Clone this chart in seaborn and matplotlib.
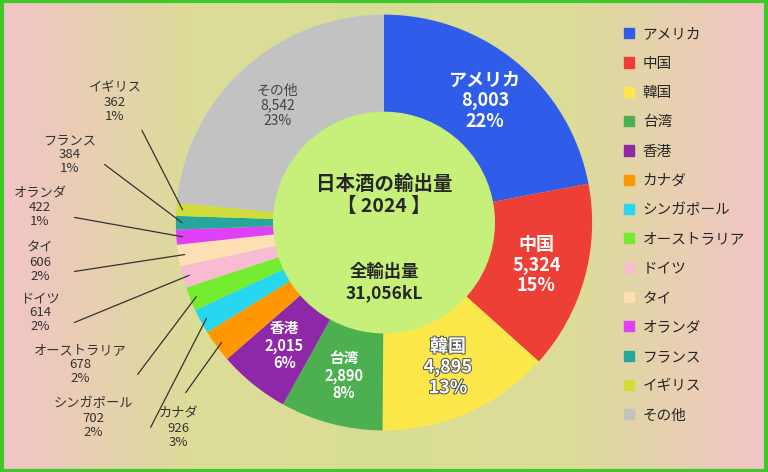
import numpy as np
import matplotlib
matplotlib.use("Agg")
import matplotlib.pyplot as plt
import matplotlib.patheffects as pe
import seaborn as sns
from matplotlib.colors import LinearSegmentedColormap
from matplotlib.patches import Rectangle, Circle

plt.rcParams["font.family"] = ["Noto Sans CJK JP", "DejaVu Sans"]
sns.set_theme(style="white", rc={"font.family": ["Noto Sans CJK JP", "DejaVu Sans"]})

countries = ["アメリカ", "中国", "韓国", "台湾", "香港", "カナダ", "シンガポール",
             "オーストラリア", "ドイツ", "タイ", "オランダ", "フランス", "イギリス", "その他"]
values = [8003, 5324, 4895, 2890, 2015, 926, 702, 678, 614, 606, 422, 384, 362, 8542]
percents = [22, 15, 13, 8, 6, 3, 2, 2, 2, 2, 1, 1, 1, 23]
colors = ["#2f5ce8", "#ee3f37", "#fde84b", "#4caf50", "#8e27a8", "#ff9800", "#27d6ef",
          "#74ec2f", "#f7bcd2", "#ffe0b5", "#e040f8", "#27a69b", "#cfdc3a", "#c2c2c2"]
total_label = "31,056kL"

fig = plt.figure(figsize=(7.68, 4.72), dpi=100)
bg = fig.add_axes([0, 0, 1, 1], zorder=-10)
cmap = LinearSegmentedColormap.from_list("bg", ["#f2c4c8", "#dcdc98", "#d8de96", "#dcdc98", "#f2c4c8"])
bg.imshow(np.linspace(0, 1, 256)[None, :], aspect="auto", cmap=cmap, extent=[0, 1, 0, 1])
bg.add_patch(Rectangle((0.002, 0.003), 0.996, 0.994, fill=False, ec="#3fc82a", lw=3, transform=bg.transAxes))
bg.axis("off")

ax = fig.add_axes([0.229, 0.088, 0.542, 0.881])
wedges, _ = ax.pie(values, colors=colors, startangle=90, counterclock=False,
                   wedgeprops=dict(width=1.0, edgecolor="none"), radius=1)
ax.add_patch(Circle((0, 0), 0.53, color="#c7f07a", zorder=3))
ax.set_xlim(-1, 1); ax.set_ylim(-1, 1); ax.set_aspect("auto")
ax.axis("off")

ax.text(0, 0.13, "日本酒の輸出量\n【 2024 】", ha="center", va="center", fontsize=14,
        fontweight="bold", zorder=4, linespacing=1.2)
ax.text(0, -0.29, "全輸出量\n" + total_label, ha="center", va="center", fontsize=12.5,
        fontweight="bold", zorder=4, linespacing=1.2)

total = sum(values)
cum = np.cumsum([0] + values)
inside = {0: ("white", 13), 1: ("white", 13), 2: ("white", 13), 3: ("white", 10.5),
          4: ("white", 10.5), 13: ("#444444", 10)}
for i, (c, v, p) in enumerate(zip(countries, values, percents)):
    mid = 90 - 360 * (cum[i] + v / 2) / total
    th = np.deg2rad(mid)
    if i in inside:
        col, fs = inside[i]
        r = 0.76
        eff = [pe.withStroke(linewidth=1.5, foreground="#555555")] if i == 2 else None
        ax.text(r * np.cos(th), r * np.sin(th), f"{c}\n{v:,}\n{p}%", ha="center", va="center",
                color=col, fontsize=fs, fontweight="bold" if col == "white" else "normal",
                linespacing=1.1, zorder=4, path_effects=eff)

label_pos = {5: (178, 428), 6: (93, 418), 7: (80, 365), 8: (40, 313), 9: (40, 262),
             10: (40, 208), 11: (70, 155), 12: (115, 102)}
for i, (px, py) in label_pos.items():
    v = values[i]
    mid = 90 - 360 * (cum[i] + v / 2) / total
    th = np.deg2rad(mid)
    xy = (0.97 * np.cos(th), 0.97 * np.sin(th))
    xt, yt = px / 768, 1 - py / 472
    ax.text(xt, yt, f"{countries[i]}\n{v:,}\n{percents[i]}%", transform=fig.transFigure,
            ha="center", va="center", fontsize=9.5, color="#333333", linespacing=1.1)
    if i == 5:
        start = (xt + 0.01, yt + 0.075)
    elif i == 12:
        start = (xt + 0.035, yt - 0.06)
    else:
        start = (xt + 0.045 + (0.03 if i in (6, 7) else 0), yt - 0.02)
    ax.annotate("", xy=xy, xytext=start, textcoords="figure fraction",
                arrowprops=dict(arrowstyle="-", color="#333333", lw=0.9, shrinkA=0, shrinkB=0))

handles = [Rectangle((0, 0), 1, 1, color=c) for c in colors]
fig.legend(handles, countries, loc="upper left", bbox_to_anchor=(0.795, 0.97), frameon=False,
           fontsize=10.5, handlelength=0.7, handleheight=0.7, labelspacing=1.05, handletextpad=0.6)

fig.savefig("out.png", dpi=100)
